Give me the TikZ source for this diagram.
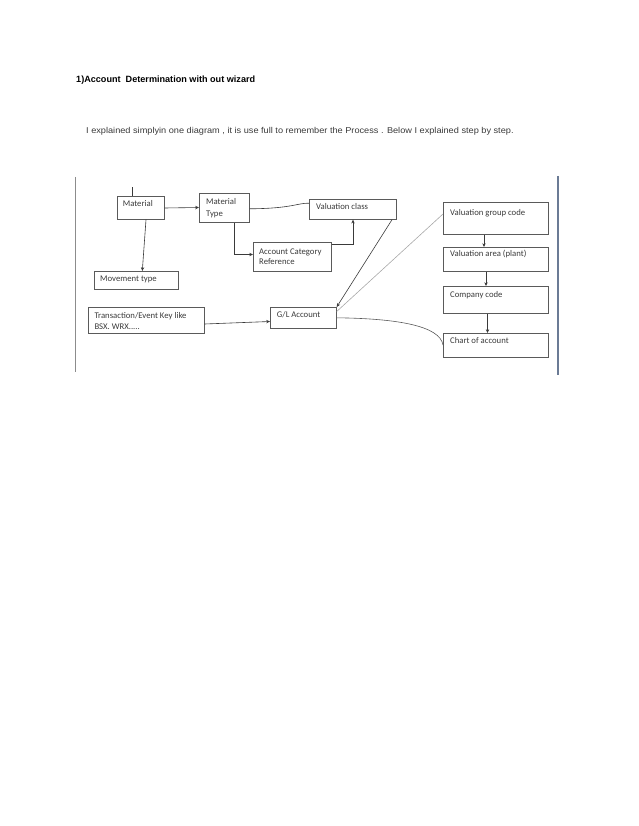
\documentclass[tikz,border=0pt]{standalone}
\usepackage{fontspec}
\usepackage{graphicx}
\setmainfont{Liberation Sans}
\newfontfamily\dgfont{Carlito}
\usetikzlibrary{arrows.meta,calc}
\definecolor{boxline}{HTML}{5A5A5A}
\definecolor{txtc}{HTML}{3A3A3A}
\definecolor{frameblue}{HTML}{6B7B95}
\definecolor{lightln}{HTML}{A8A8A8}
\definecolor{frameleft}{HTML}{8C8C8C}
\begin{document}
\begin{tikzpicture}[x=1pt,y=-1pt,
  box/.style={draw=boxline,line width=0.7pt,anchor=north west,inner sep=0pt},
  lbl/.style={anchor=base west,inner sep=0pt,text=txtc,font=\dgfont\fontsize{8.7}{10}\selectfont},
  conn/.style={draw=txtc,line width=0.6pt},
  arr/.style={conn,-{Stealth[length=3.8pt,width=3.4pt]}}]
\useasboundingbox (0,0) rectangle (638,826);
% texts above
\node[anchor=west,inner sep=0pt,text=black,font=\bfseries\fontsize{9.1}{11}\selectfont] (title) at (76,80) {1)Account\ \ Determination with out wizard};
\node[anchor=west,inner sep=0pt,text=txtc,font=\fontsize{8.5}{10}\selectfont] (intro) at (86,131) {\scalebox{1.08}[1]{I explained simplyin one diagram , it is use full to remember the Process . Below I explained step by step.}};
% frame lines
\draw[draw=frameleft,line width=0.7pt] (75.7,177) coordinate (fl1) -- (75.7,372) coordinate (fl2);
\draw[draw=frameblue,line width=1.6pt] (557.7,176) coordinate (fr1) -- (557.7,375) coordinate (fr2);
% boxes
\node[box,minimum width=47pt,minimum height=23pt] (mat) at (117,196) {};
\node[box,minimum width=50pt,minimum height=29pt] (mt) at (199,193) {};
\node[box,minimum width=78pt,minimum height=29pt] (acr) at (253,242) {};
\node[box,minimum width=87pt,minimum height=20pt] (vc) at (309,199) {};
\node[box,minimum width=84pt,minimum height=18pt] (mov) at (94,271) {};
\node[box,minimum width=116pt,minimum height=26pt] (tr) at (88,307) {};
\node[box,minimum width=66pt,minimum height=21pt] (gl) at (270,307) {};
\node[box,minimum width=105pt,minimum height=32pt] (vgc) at (443,202) {};
\node[box,minimum width=105pt,minimum height=24pt] (va) at (443,247) {};
\node[box,minimum width=105pt,minimum height=27pt] (cc) at (443,286) {};
\node[box,minimum width=105pt,minimum height=24pt] (coa) at (443,333) {};
% labels
\node[lbl] (tmat) at (122.7,206.5) {Material};
\node[lbl] (tmt1) at (206,204.7) {Material};
\node[lbl] (tmt2) at (206,216.3) {Type};
\node[lbl] (tacr1) at (259,254.7) {Account Category};
\node[lbl] (tacr2) at (259,264.9) {Reference};
\node[lbl] (tvc) at (316,209.7) {Valuation class};
\node[lbl] (tmov) at (100,281) {Movement type};
\node[lbl] (ttr1) at (94.3,318) {Transaction/Event Key like};
\node[lbl] (ttr2) at (94.3,329.5) {BSX. WRX.....};
\node[lbl] (tgl) at (276.7,317) {G/L Account};
\node[lbl] (tvgc) at (450,215.7) {Valuation group code};
\node[lbl] (tva) at (450,256.3) {Valuation area (plant)};
\node[lbl] (tcc) at (450,297.3) {Company code};
\node[lbl] (tcoa) at (450,343.7) {Chart of account};
% connectors
\coordinate (stub) at (132.7,187.5);
\draw[conn,line width=0.9pt] (stub) -- (mat.north -| stub);
\draw[arr] (mat.east |- 0,208) -- (mt.west |- 0,207.5);
\draw[arr] (mat.south -| 146,0) -- (mov.north -| 142.3,0);
\draw[arr] (mt.south -| 234,0) |- (acr.west |- 0,254.5);
\draw[conn] (mt.east |- 0,208.8) .. controls (292,208.5) and (297,203) .. (vc.west |- 0,203.2);
\draw[arr] (acr.east |- 0,244) -| (vc.south -| 353,0);
\draw[arr] (vc.south -| 392,0) -- (gl.north east);
\draw[draw=lightln,line width=0.6pt] (gl.east |- 0,311.5) -- (vgc.west |- 0,214);
\draw[arr] (vgc.south -| 484,0) -- (va.north -| 484,0);
\draw[arr] (va.south -| 486,0) -- (cc.north -| 486,0);
\draw[arr] (cc.south -| 487.5,0) -- (coa.north -| 487.5,0);
\draw[conn,draw=boxline] (gl.east |- 0,317.8) .. controls (398,318.5) and (440,326) .. (coa.west |- 0,345);
\draw[arr] (tr.east |- 0,324) -- (gl.west |- 0,321.5);
\end{tikzpicture}
\end{document}
